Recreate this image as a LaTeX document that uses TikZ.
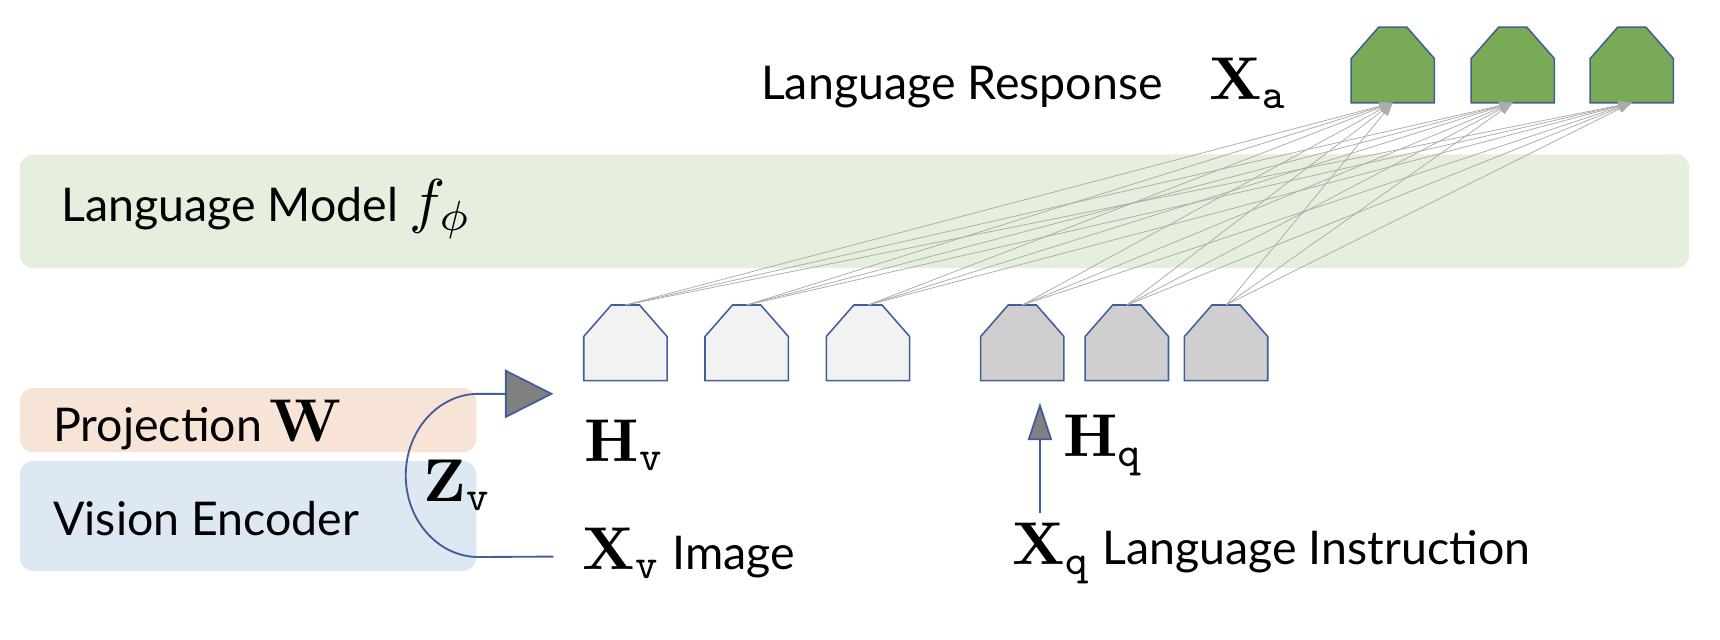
\documentclass[tikz,border=0pt]{standalone}
\usepackage[no-math]{fontspec}
\setmainfont{Lato}
\usetikzlibrary{positioning,calc,arrows.meta}
\definecolor{lmband}{HTML}{E6EFDD}
\definecolor{projbox}{HTML}{F8E4D6}
\definecolor{encbox}{HTML}{DEE8F3}
\definecolor{tokedge}{HTML}{41609A}
\definecolor{tokgreen}{HTML}{7BAA56}
\definecolor{tokimg}{HTML}{F2F2F2}
\definecolor{tokins}{HTML}{D0CECE}
\newcommand{\bigmath}[1]{\scalebox{3.9}{\normalsize$#1$}}
\begin{document}
\begin{tikzpicture}[
    tok/.style={rectangle, draw=none, minimum width=1.875cm, minimum height=1.7cm, inner sep=0pt, anchor=south},
    tokline/.style={draw=tokedge, line width=1pt},
    band/.style={rounded corners=0.3cm, draw=none},
    lbl/.style={font=\fontsize{30}{35}\selectfont, inner sep=0pt, anchor=west},
    link/.style={draw=gray!65, line width=0.5pt, -{Triangle[length=0.3cm,width=0.2cm]}},
    flow/.style={draw=tokedge, line width=1.2pt}
]
    \useasboundingbox (0,0) rectangle (39,-14.5);

    % boxes
    \fill[band, lmband] (0.45,-3.5) rectangle (38.3,-6.08);
    \fill[band, projbox] (0.45,-8.8) rectangle (10.8,-10.25);
    \fill[band, encbox] (0.45,-10.45) rectangle (10.8,-12.95);

    \node[lbl] (lm) at (1.38,-4.75) {Language Model \bigmath{f_\phi}};
    \node[lbl] (proj) at (1.2,-9.63) {Projection\,\bigmath{\mathbf{W}}};
    \node[lbl] (enc) at (1.2,-11.75) {Vision Encoder};

    % tokens
    \foreach \nm/\x/\y/\col in {i1/14.18/-8.63/tokimg, i2/16.93/-8.63/tokimg, i3/19.68/-8.63/tokimg,
                                q1/23.18/-8.63/tokins, q2/25.55/-8.63/tokins, q3/27.8/-8.63/tokins,
                                a1/31.58/-2.33/tokgreen, a2/34.3/-2.33/tokgreen, a3/37.0/-2.33/tokgreen}{
        \node[tok] (\nm) at (\x,\y) {};
        \draw[tokline, fill=\col] (\nm.south west) -- ($(\nm.south west)+(0,1.0)$) -- ([xshift=-0.32cm]\nm.north)
            -- ([xshift=0.32cm]\nm.north) -- ($(\nm.south east)+(0,1.0)$) -- (\nm.south east) -- cycle;
    }

    % all-to-all links
    \foreach \s in {i1,i2,i3,q1,q2,q3}{
        \foreach \t in {a1,a2,a3}{
            \draw[link] (\s.north) -- (\t.south);
        }
    }

    \node[lbl] (resp) at (17.25,-1.88) {Language Response\quad\bigmath{\mathbf{X}_{\mathtt{a}}}};

    % visual path
    \node[lbl] (xv) at (13.2,-12.55) {\bigmath{\mathbf{X}_{\mathtt{v}}}\ Image};
    \node[lbl] (hv) at (13.25,-10.1) {\bigmath{\mathbf{H}_{\mathtt{v}}}};
    \node[lbl] (zv) at (9.6,-11.0) {\bigmath{\mathbf{Z}_{\mathtt{v}}}};
    \coordinate (hvin) at (12.55,-8.93);
    \draw[flow, -{Triangle[length=1.1cm,width=1.1cm,fill=gray]}]
        (xv.west) ++(-0.65,-0.07) -- (10.85,-12.63) arc[start angle=270, end angle=90, x radius=1.65cm, y radius=1.85cm] -- (hvin);

    % instruction path
    \node[lbl] (xq) at (22.95,-12.55) {\bigmath{\mathbf{X}_{\mathtt{q}}}\ Language Instruction};
    \node[lbl] (hq) at (24.1,-10.1) {\bigmath{\mathbf{H}_{\mathtt{q}}}};
    \coordinate (xqtop) at (23.58,-11.63);
    \coordinate (hqtop) at (23.58,-9.13);
    \draw[flow, -{Triangle[length=0.85cm,width=0.55cm,fill=gray]}] (xqtop) -- (hqtop);
\end{tikzpicture}
\end{document}
